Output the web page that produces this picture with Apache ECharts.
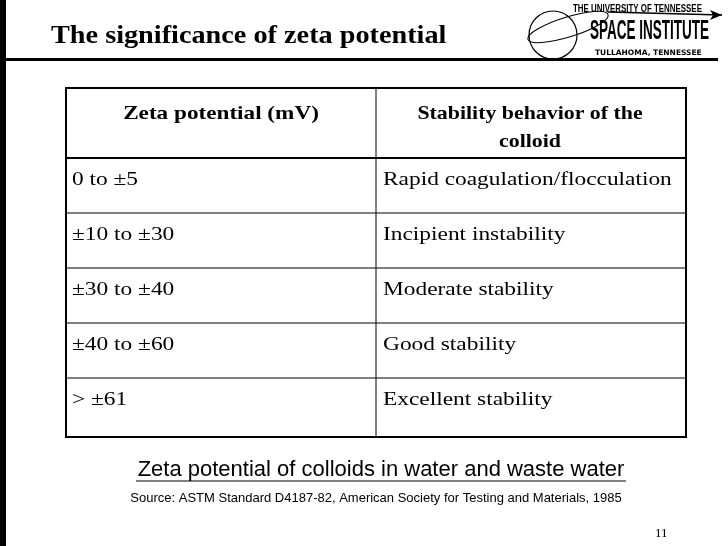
<!DOCTYPE html>
<html><head><meta charset="utf-8">
<script src="https://cdn.jsdelivr.net/npm/echarts@6/dist/echarts.min.js"></script>
<style>html,body{margin:0;padding:0;background:#fff}#main{width:728px;height:546px}</style>
</head><body><div id="main"></div>
<script>
var headers = ['Zeta potential (mV)', 'Stability behavior of the\ncolloid'];
var zetaRanges = ['0 to \u00b15', '\u00b110 to \u00b130', '\u00b130 to \u00b140', '\u00b140 to \u00b160', '> \u00b161'];
var stability = ['Rapid coagulation/flocculation', 'Incipient instability', 'Moderate stability', 'Good stability', 'Excellent stability'];
var rowEdges = [88, 158, 213, 268, 323, 378, 437];

var chart = echarts.init(document.getElementById('main'));
var serif = '"Liberation Serif", "DejaVu Serif", serif';
var sans = '"Liberation Sans", Arial, sans-serif';
var g = [];
function txt(x, y, s, font, sx, extra) {
  var st = { text: s, font: font, fill: '#000', verticalAlign: 'middle' };
  for (var k in extra) st[k] = extra[k];
  return { type: 'text', x: x, y: y, scaleX: sx || 1, style: st };
}
// left strip + title
g.push({ type: 'rect', shape: { x: 0, y: 0, width: 6, height: 546 }, style: { fill: '#000' } });
g.push(txt(51, 37, 'The significance of zeta potential', 'bold 25px ' + serif, 1.13));
g.push({ type: 'rect', shape: { x: 6, y: 58, width: 712, height: 3 }, style: { fill: '#000' } });
// logo
g.push({ type: 'circle', shape: { cx: 553, cy: 35, r: 24 }, style: { fill: 'none', stroke: '#000', lineWidth: 1.2 } });
g.push({ type: 'ellipse', shape: { cx: 0, cy: 0, rx: 42, ry: 10 }, x: 568, y: 27, rotation: 0.3, style: { fill: 'none', stroke: '#000', lineWidth: 1 } });
g.push({ type: 'line', shape: { x1: 608, y1: 12, x2: 722, y2: 15 }, style: { stroke: '#000', lineWidth: 1.5 } });
g.push({ type: 'polygon', shape: { points: [[722, 15], [710, 10], [713, 15], [710, 20]] }, style: { fill: '#000' } });
g.push(txt(573, 9, 'THE UNIVERSITY OF TENNESSEE', 'bold 11px ' + sans, 0.72));
g.push(txt(590, 32, 'SPACE INSTITUTE', 'bold 27px ' + sans, 0.5));
g.push(txt(595, 53, 'TULLAHOMA, TENNESSEE', 'bold 7.5px "DejaVu Sans", sans-serif', 1));
// table
var x0 = 66, xm = 376, x1 = 686;
g.push({ type: 'rect', shape: { x: x0, y: rowEdges[0], width: x1 - x0, height: rowEdges[6] - rowEdges[0] }, style: { fill: 'none', stroke: '#000', lineWidth: 2 } });
g.push({ type: 'line', shape: { x1: xm, y1: rowEdges[0], x2: xm, y2: rowEdges[6] }, style: { stroke: '#000', lineWidth: 1 } });
for (var i = 1; i < 6; i++) {
  g.push({ type: 'line', shape: { x1: x0, y1: rowEdges[i], x2: x1, y2: rowEdges[i] }, style: { stroke: '#000', lineWidth: i == 1 ? 2 : 1 } });
}
g.push(txt(221, 114, headers[0], 'bold 19px ' + serif, 1.22, { align: 'center' }));
g.push(txt(530, 128, headers[1], 'bold 19px ' + serif, 1.15, { align: 'center', lineHeight: 28 }));
for (var r = 0; r < zetaRanges.length; r++) {
  var cy = rowEdges[r + 1] + 22;
  g.push(txt(72, cy, zetaRanges[r], '19px ' + serif, 1.23));
  g.push(txt(383, cy, stability[r], '19px ' + serif, 1.23));
}
// caption
g.push(txt(381, 470, 'Zeta potential of colloids in water and waste water', '22px ' + sans, 1, { align: 'center' }));
g.push({ type: 'line', shape: { x1: 136, y1: 481, x2: 626, y2: 481 }, style: { stroke: '#000', lineWidth: 1 } });
g.push(txt(376, 498, 'Source: ASTM Standard D4187-82, American Society for Testing and Materials, 1985', '13px ' + sans, 1, { align: 'center' }));
g.push(txt(655, 534, '11', '13px ' + serif, 1));

chart.setOption({ animation: false, graphic: g });
</script></body></html>
